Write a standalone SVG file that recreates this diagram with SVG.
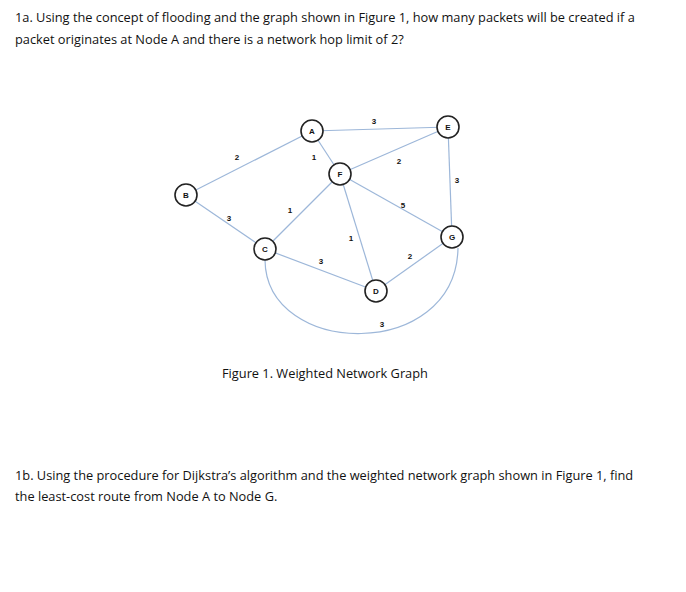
<svg xmlns="http://www.w3.org/2000/svg" width="686" height="592" viewBox="0 0 686 592">
<style>
.t{font-family:"Open Sans","Liberation Sans",sans-serif;font-size:12.8px;fill:#111}
.n circle{fill:#fff;stroke:#222;stroke-width:1.6}
.n text{font-family:"Liberation Sans",sans-serif;font-size:8px;font-weight:bold;text-anchor:middle;fill:#111}
.w{font-family:"Liberation Sans",sans-serif;font-size:8px;font-weight:bold;text-anchor:middle;fill:#111}
#edges line,#edges path{stroke:#9db7d9;stroke-width:1.2;fill:none}
</style>
<rect width="686" height="592" fill="#fff"/>
<text class="t" x="15" y="22">1a. Using the concept of flooding and the graph shown in Figure 1, how many packets will be created if a</text>
<text class="t" x="15" y="44">packet originates at Node A and there is a network hop limit of 2?</text>
<g id="edges">
<line x1="312" y1="131" x2="448" y2="127"/>
<line x1="312" y1="131" x2="186" y2="195"/>
<line x1="312" y1="131" x2="340" y2="174"/>
<line x1="448" y1="127" x2="340" y2="174"/>
<line x1="448" y1="127" x2="452" y2="237"/>
<line x1="186" y1="195" x2="265" y2="249"/>
<line x1="340" y1="174" x2="265" y2="249"/>
<line x1="340" y1="174" x2="452" y2="237"/>
<line x1="340" y1="174" x2="376" y2="291"/>
<line x1="265" y1="249" x2="376" y2="291"/>
<line x1="452" y1="237" x2="376" y2="291"/>
<path d="M265,260 C266,358 456,362 458,248"/>
</g>
<g id="labels">
<text class="w" x="374" y="124">3</text>
<text class="w" x="314" y="160">1</text>
<text class="w" x="237" y="160">2</text>
<text class="w" x="399" y="164">2</text>
<text class="w" x="457" y="183">3</text>
<text class="w" x="229" y="221">3</text>
<text class="w" x="290" y="213">1</text>
<text class="w" x="403" y="208">5</text>
<text class="w" x="351" y="241">1</text>
<text class="w" x="410" y="259">2</text>
<text class="w" x="321" y="264">3</text>
<text class="w" x="382" y="327">3</text>
</g>
<g id="A" class="n"><circle cx="312" cy="131" r="11"/><text x="312" y="134">A</text></g>
<g id="E" class="n"><circle cx="448" cy="127" r="11"/><text x="448" y="130">E</text></g>
<g id="F" class="n"><circle cx="340" cy="174" r="11"/><text x="340" y="177">F</text></g>
<g id="B" class="n"><circle cx="186" cy="195" r="11"/><text x="186" y="198">B</text></g>
<g id="C" class="n"><circle cx="265" cy="249" r="11"/><text x="265" y="252">C</text></g>
<g id="G" class="n"><circle cx="452" cy="237" r="11"/><text x="452" y="240">G</text></g>
<g id="D" class="n"><circle cx="376" cy="291" r="11"/><text x="376" y="294">D</text></g>
<text class="t" x="222" y="378">Figure 1. Weighted Network Graph</text>
<text class="t" x="15" y="480">1b. Using the procedure for Dijkstra’s algorithm and the weighted network graph shown in Figure 1, find</text>
<text class="t" x="15" y="501">the least-cost route from Node A to Node G.</text>
</svg>
